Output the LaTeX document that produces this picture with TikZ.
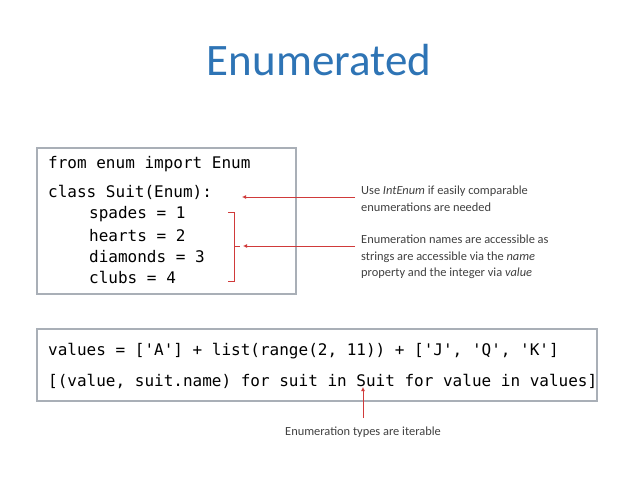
\documentclass[tikz,border=0pt]{standalone}
\usepackage{fontspec}
\setmainfont{Carlito}
\newfontfamily\codefont{DejaVu Sans Mono}
\usetikzlibrary{arrows.meta}
\definecolor{titleblue}{HTML}{2E74B5}
\definecolor{boxgrey}{HTML}{A9AFB7}
\definecolor{arrred}{HTML}{D03A3A}
\definecolor{notegrey}{HTML}{404040}
\tikzset{
  codebox/.style={draw=boxgrey,line width=2pt,fill=white},
  code/.style={anchor=west,inner sep=0pt,font=\codefont\fontsize{16}{18}\selectfont},
  note/.style={anchor=north west,inner sep=0pt,align=left,text=notegrey,font=\fontsize{12.4}{16.5}\selectfont},
  redarrow/.style={draw=arrred,line width=0.8pt,-{Latex[length=4pt,width=4pt]}}
}
\begin{document}
\begin{tikzpicture}[x=1pt,y=-1pt]
\useasboundingbox (0,0) rectangle (638,479);
\node[font=\fontsize{45}{48}\selectfont,text=titleblue] (title) at (319,60) {Enumerated};
\draw[codebox] (37,148) rectangle (296,294);
\node[code] (l1) at (48,164) {from enum import Enum};
\node[code] (l2) at (48,192) {class Suit(Enum):};
\node[code] (l3) at (89,214) {spades = 1};
\node[code] (l4) at (89,236) {hearts = 2};
\node[code] (l5) at (89,257) {diamonds = 3};
\node[code] (l6) at (89,277) {clubs = 4};
\draw[arrred,line width=0.8pt] (228,212) -- (234,212) -- (234,281) -- (228,281);
\draw[arrred,line width=0.8pt] (234,246) -- (240,246);
\coordinate (br) at (243,246);
\coordinate (a1) at (242,197);
\node[note] (n1) at (361,186) {Use \textit{IntEnum} if easily comparable\\enumerations are needed};
\draw[redarrow] (355,197) coordinate (s1) -- (a1);
\node[note] (n2) at (361,235) {Enumeration names are accessible as\\strings are accessible via the \textit{name}\\property and the integer via \textit{value}};
\draw[redarrow] (355,246) coordinate (s2) -- (br);
\draw[codebox] (37,329) rectangle (597,401);
\node[code] (m1) at (48,351) {values = ['A'] + list(range(2, 11)) + ['J', 'Q', 'K']};
\node[code] (m2) at (48,381) {[(value, suit.name) for suit in Suit for value in values]};
\node[note,anchor=center] (n3) at (363,432) {Enumeration types are iterable};
\coordinate (a3) at (363,387);
\draw[redarrow] (363,418) -- (a3);
\end{tikzpicture}
\end{document}
